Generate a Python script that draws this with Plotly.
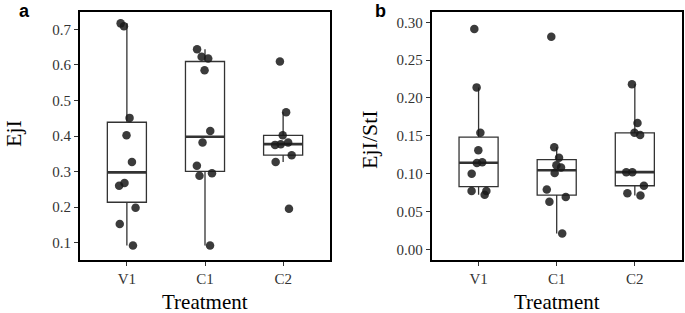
import numpy as np
import plotly.graph_objects as go

# ---------------- data ----------------
categories = ["V1", "C1", "C2"]

eji_v1 = [0.717, 0.709, 0.451, 0.402, 0.327, 0.268, 0.260, 0.198, 0.152, 0.092]
eji_c1 = [0.644, 0.623, 0.618, 0.585, 0.414, 0.382, 0.316, 0.295, 0.288, 0.092]
eji_c2 = [0.610, 0.467, 0.402, 0.377, 0.375, 0.382, 0.346, 0.327, 0.195]

ratio_v1 = [0.291, 0.214, 0.154, 0.131, 0.114, 0.115, 0.100, 0.077, 0.077, 0.072]
ratio_c1 = [0.281, 0.135, 0.121, 0.111, 0.108, 0.101, 0.079, 0.069, 0.063, 0.021]
ratio_c2 = [0.218, 0.167, 0.154, 0.151, 0.102, 0.102, 0.084, 0.074, 0.071]

eji_ticks = [0.1, 0.2, 0.3, 0.4, 0.5, 0.6, 0.7]
ratio_ticks = [0.00, 0.05, 0.10, 0.15, 0.20, 0.25, 0.30]

panel_a = [eji_v1, eji_c1, eji_c2]
panel_b = [ratio_v1, ratio_c1, ratio_c2]

# ---------------- styling ----------------
W, H = 685, 313
SERIF = "Liberation Serif, Times New Roman, serif"
SANS = "Liberation Sans, Arial, sans-serif"
BOX_LINE = "#333333"
POINT = "rgba(25,25,25,0.85)"
BOX_W = 0.5


def box_stats(vals):
    v = np.sort(np.asarray(vals, dtype=float))
    q1, med, q3 = np.percentile(v, [25, 50, 75])  # same quantile rule as ggplot
    iqr = q3 - q1
    lo = v[v >= q1 - 1.5 * iqr].min()
    hi = v[v <= q3 + 1.5 * iqr].max()
    return q1, med, q3, lo, hi


fig = go.Figure()
shapes = []

for panel, (xa, ya) in zip([panel_a, panel_b], [("x", "y"), ("x2", "y2")]):
    for i, vals in enumerate(panel):
        q1, med, q3, lo, hi = box_stats(vals)
        fig.add_trace(go.Box(
            x=[i], y=[vals],
            q1=[q1], median=[med], q3=[q3], lowerfence=[lo], upperfence=[hi],
            xaxis=xa, yaxis=ya,
            width=BOX_W,
            boxpoints="all", jitter=0.6, pointpos=0,
            whiskerwidth=0,
            fillcolor="rgba(0,0,0,0)",
            line=dict(color=BOX_LINE, width=1.3),
            marker=dict(color=POINT, size=8.5, line=dict(width=0)),
            showlegend=False, hoverinfo="y",
        ))
        shapes.append(dict(type="line", xref=xa, yref=ya,
                           x0=i - BOX_W / 2, x1=i + BOX_W / 2, y0=med, y1=med,
                           line=dict(color=BOX_LINE, width=2.6), layer="below"))

top_px, bot_px = 12, 260
ydom = [1 - bot_px / H, 1 - top_px / H]

axis_common = dict(
    showgrid=False, zeroline=False,
    showline=True, mirror=True, linecolor="black", linewidth=2,
    ticks="outside", ticklen=4, tickwidth=1, tickcolor=BOX_LINE,
    tickfont=dict(family=SERIF, size=15, color="#333333"),
)

fig.update_layout(
    width=W, height=H,
    margin=dict(l=0, r=0, t=0, b=0),
    paper_bgcolor="white", plot_bgcolor="white",
    shapes=shapes,
    xaxis=dict(domain=[80 / W, 330 / W], range=[-0.6, 2.6], tickvals=[0, 1, 2],
               ticktext=categories, anchor="y", **axis_common),
    yaxis=dict(domain=ydom, range=[0.051, 0.749], tickvals=eji_ticks,
               tickformat=".1f", anchor="x", **axis_common),
    xaxis2=dict(domain=[431.7 / W, 681.7 / W], range=[-0.6, 2.6], tickvals=[0, 1, 2],
                ticktext=categories, anchor="y2", **axis_common),
    yaxis2=dict(domain=ydom, range=[-0.0141, 0.3136], tickvals=ratio_ticks,
                tickformat=".2f", anchor="x2", **axis_common),
)


def ann(text, px, py, size, family, angle=0, bold=False, color="black"):
    fig.add_annotation(
        text=f"<b>{text}</b>" if bold else text,
        x=px / W, y=1 - py / H, xref="paper", yref="paper",
        xanchor="center", yanchor="middle", showarrow=False, textangle=angle,
        font=dict(family=family, size=size, color=color),
    )


ann("a", 25, 11, 18, SANS, bold=True)
ann("b", 380, 11, 18, SANS, bold=True)
ann("EjI", 13, 134, 22, SERIF, angle=-90)
ann("EjI/StI", 369, 140, 22, SERIF, angle=-90)
ann("Treatment", 205, 302, 21, SERIF)
ann("Treatment", 556.7, 302, 21, SERIF)

fig.write_html("out.html", config={"displayModeBar": False},
               post_script="document.body.style.margin='0';")
